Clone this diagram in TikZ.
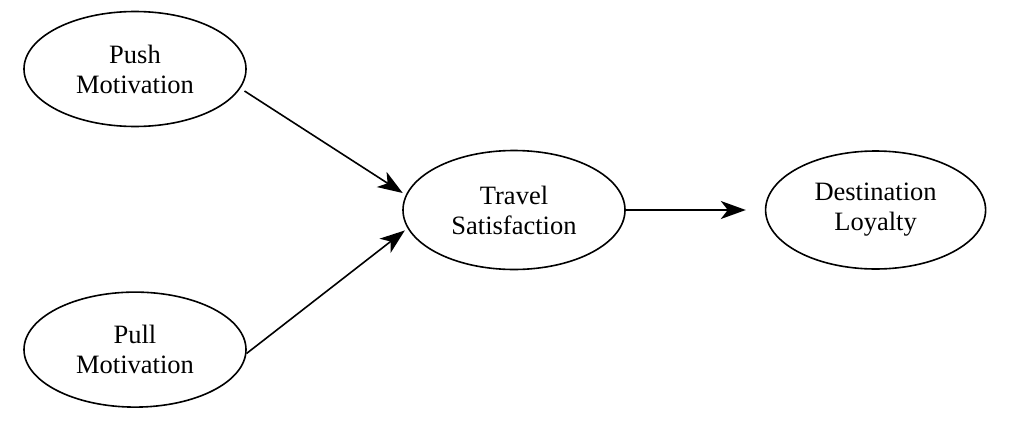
\documentclass[tikz,border=0pt]{standalone}
\usepackage{fontspec}
\setmainfont{Liberation Serif}
\usetikzlibrary{arrows.meta,positioning,shapes.geometric}

\begin{document}
\begin{tikzpicture}[
    x=1pt, y=-1pt,
    >={Stealth[length=25pt, width=18pt, inset=7pt]},
    construct/.style={ellipse, draw, line width=1.6pt, inner sep=0pt,
                      minimum width=222pt, minimum height=115pt,
                      align=center, font=\fontsize{26.5}{30}\selectfont},
    arr/.style={->, line width=1.6pt},
]

% ── Frame ──
\useasboundingbox (0,0) rectangle (1011,423);

% ── Motivations ──
\node[construct] (push) at (135,69) {Push\\Motivation};
\node[construct, below=164pt of push] (pull) {Pull\\Motivation};

% ── Satisfaction and loyalty ──
\node[construct, minimum height=119pt] (travel) at (514,210) {Travel\\Satisfaction};
\node[construct, minimum width=220pt, minimum height=118pt, right=139pt of travel]
    (dest) {Destination\\Loyalty};

% ── Arrows ──
\draw[arr] ([xshift=6pt]push.-12) -- ([xshift=-4pt]travel.171);
\draw[arr] (pull.-2) -- ([xshift=-4pt]travel.191);
\draw[arr, shorten >=19pt] (travel.east) -- (dest.west);

\end{tikzpicture}
\end{document}
